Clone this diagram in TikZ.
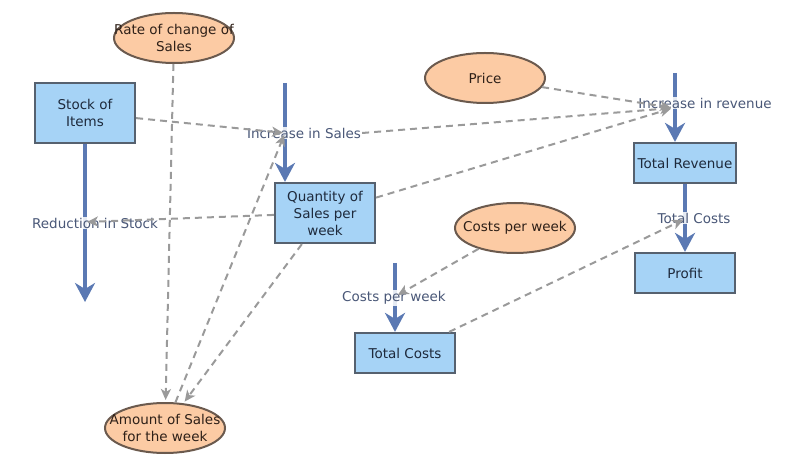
\documentclass[tikz,border=0pt]{standalone}
\usepackage{fontspec}
\setmainfont{DejaVu Sans}
\usetikzlibrary{arrows.meta}
\usetikzlibrary{shapes.geometric}
\definecolor{boxfill}{HTML}{A6D3F6}
\definecolor{boxline}{HTML}{56616F}
\definecolor{boxink}{HTML}{1E2A3C}
\definecolor{ovalfill}{HTML}{FCCBA4}
\definecolor{ovalline}{HTML}{6B5A4E}
\definecolor{ovalink}{HTML}{2E2018}
\definecolor{flowblue}{HTML}{5B79B3}
\definecolor{flowink}{HTML}{4A5878}
\definecolor{linkgray}{HTML}{9A9A9A}
\newcommand{\diagfont}{\fontsize{13.5}{17}\selectfont}

\begin{document}
\begin{tikzpicture}[x=1pt, y=-1pt,
        boxnode/.style={draw=boxline, fill=boxfill, line width=2.2pt, minimum width=100, align=center, text=boxink, font=\diagfont},
        ovalnode/.style={ellipse, draw=ovalline, fill=ovalfill, line width=2pt, minimum width=120, minimum height=50, inner sep=0pt},
        ovallbl/.style={align=center, text=ovalink, font=\diagfont, inner sep=0pt},
        flow/.style={draw=flowblue, line width=4pt, -{Stealth[length=19pt, width=20pt, inset=6pt]}},
        flowlbl/.style={fill=white, fill opacity=0.85, text opacity=1, text=flowink, font=\diagfont, inner sep=1pt},
        link/.style={draw=linkgray, line width=2pt, dash pattern=on 7pt off 5pt, -{Stealth[length=11pt, width=10pt, inset=3pt]}, shorten >=2pt}]
            \useasboundingbox (0,0) rectangle (800,470);

            % Draw the stocks
            \node[boxnode, minimum height=60] (stock) at (85,113) {Stock of\\Items};
            \node[boxnode, minimum height=60] (qty) at (325,213) {Quantity of\\Sales per\\week};
            \node[boxnode, minimum height=40] (rev) at (685,163) {Total Revenue};
            \node[boxnode, minimum height=40] (profit) at (685,273) {Profit};
            \node[boxnode, minimum height=40] (tc) at (405,353) {Total Costs};

            % Draw the variables
            \node[ovalnode, label={[ovallbl]center:{Rate of change of\\Sales}}] (rate) at (174,38) {};
            \node[ovalnode, label={[ovallbl]center:Price}] (price) at (485,78) {};
            \node[ovalnode, label={[ovallbl]center:Costs per week}] (cpw) at (515,228) {};
            \node[ovalnode, label={[ovallbl]center:{Amount of Sales\\for the week}}] (amount) at (165,428) {};

            % Draw the flows
            \coordinate (srcsales) at (285,83);
            \coordinate (sinkstock) at (85,302);
            \coordinate (srcrev) at (675,73);
            \coordinate (srccost) at (395,263);

            \draw[flow] (stock.south) -- (sinkstock);
            \draw[flow] (srcsales) -- (srcsales |- qty.north);
            \draw[flow] (srcrev) -- (srcrev |- rev.north);
            \draw[flow] (rev.south) -- (profit.north);
            \draw[flow] (srccost) -- (srccost |- tc.north);

            % Flow labels
            \node[flowlbl] (lstock) at (95,223) {Reduction in Stock};
            \node[flowlbl] (lsales) at (304,133) {Increase in Sales};
            \node[flowlbl] (lrev) at (705,103) {Increase in revenue};
            \node[flowlbl] (lprofit) at (694,218) {Total Costs};
            \node[flowlbl] (lcost) at (394,298) {Costs per week};

            % Valves
            \coordinate (vstock) at (85,222);
            \coordinate (vsales) at (285,133);
            \coordinate (vrev) at (673,108);
            \coordinate (vprofit) at (685,219);
            \coordinate (vcost) at (396,296);

            % Draw the links
            \draw[link] (stock) -- (vsales);
            \draw[link] (qty) -- (vstock);
            \draw[link] (rate) -- (amount);
            \draw[link] (amount) -- (vsales);
            \draw[link] (qty) -- (amount);
            \draw[link] (price) -- (vrev);
            \draw[link] (qty) -- (vrev);
            \draw[link] (lsales.east) -- (vrev);
            \draw[link] (cpw) -- (vcost);
            \draw[link] (tc) -- (vprofit);

        \end{tikzpicture}
\end{document}
